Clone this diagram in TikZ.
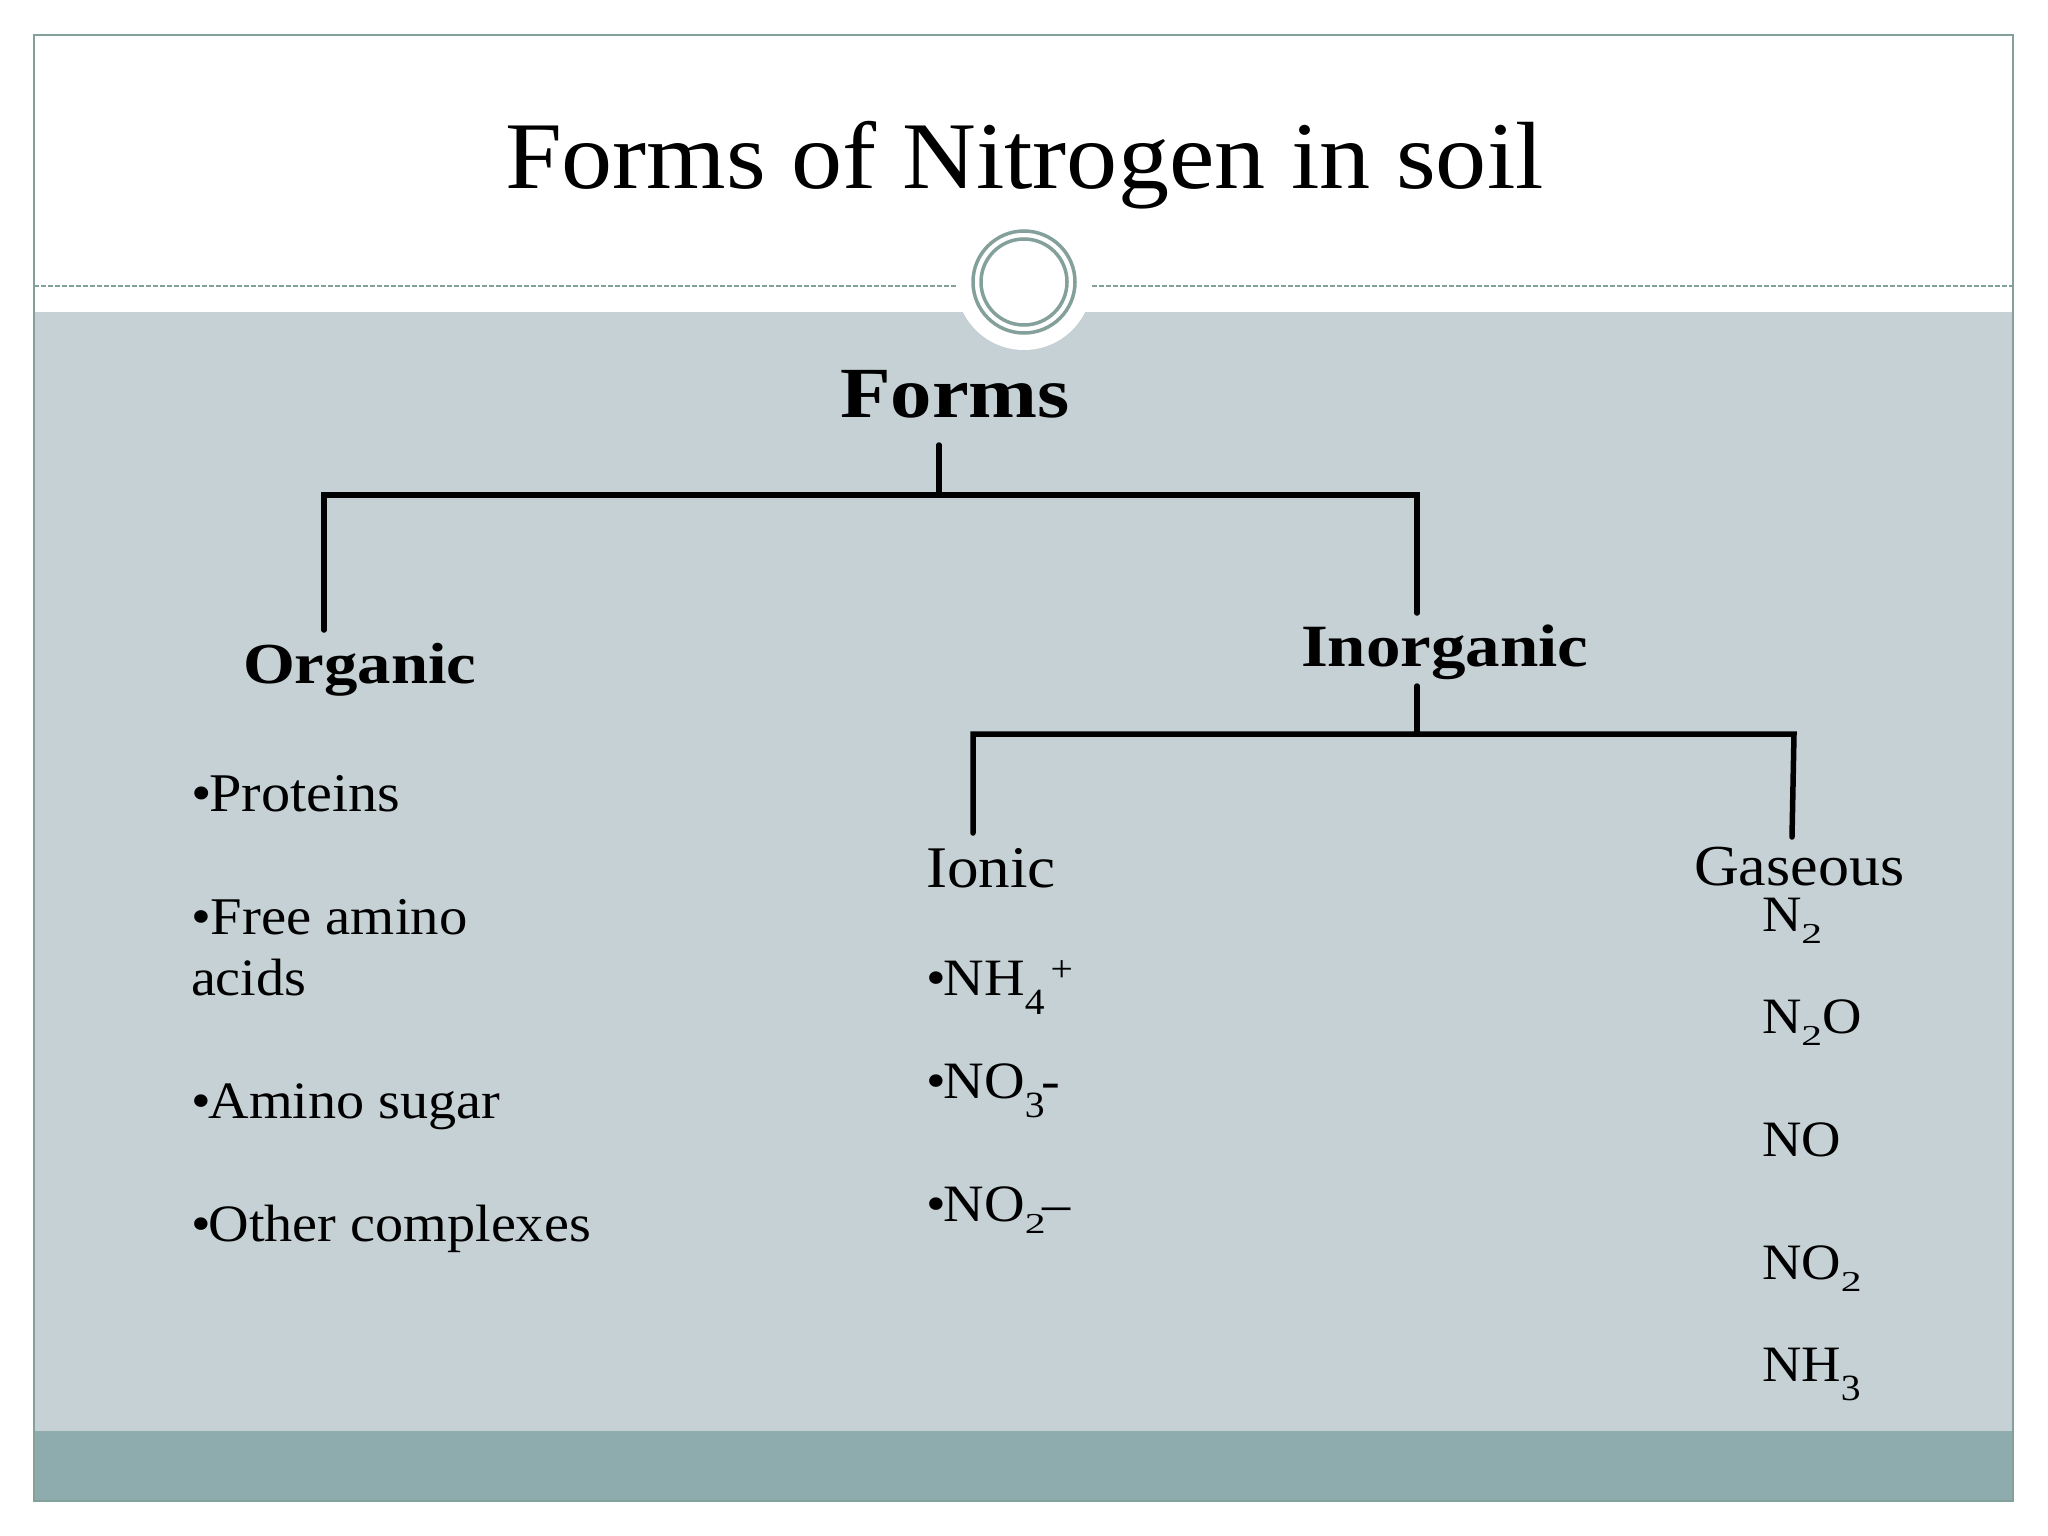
\documentclass[tikz,border=0pt]{standalone}
\usepackage{fontspec}
\usepackage{graphicx}
\setmainfont[FakeStretch=1.07,BoldFeatures={FakeStretch=1.15}]{Liberation Serif}
\definecolor{panel}{HTML}{C5D1D5}
\definecolor{band}{HTML}{8EABAE}
\definecolor{edge}{HTML}{84A09A}
\newcommand{\fs}[1]{\fontsize{#1}{#1}\selectfont}
\newcommand{\subtwo}{\raisebox{-12pt}{\scalebox{1.05}[0.78]{\fs{37}2}}}
\newcommand{\subthree}{\raisebox{-19pt}{\fs{37}3}}
\newcommand{\subfour}{\raisebox{-19pt}{\fs{37}4}}
\newcommand{\bul}{•\hspace{-2pt}}
\tikzset{
 lbl/.style={anchor=base west,inner sep=0pt,outer sep=0pt,text=black},
 body/.style={lbl,font=\fs{52.5}},
 gas/.style={lbl,font=\fs{51}},
 head/.style={lbl,font=\fs{59}},
 boldhead/.style={lbl,font=\fs{58}\bfseries},
 conn/.style={draw=black,line width=5.5pt,line cap=round}
}
\begin{document}
\begin{tikzpicture}[x=1pt,y=-1pt]
\useasboundingbox (0,0) rectangle (2048,1536);
\fill[white] (0,0) rectangle (2048,1536);
\fill[panel] (34,312) rectangle (2013,1431);
\fill[band] (34,1431) rectangle (2013,1501);
\fill[white] (1024,282) circle (68);
\fill[white] (950,270) rectangle (1098,312);
\draw[edge,line width=2pt] (34,35) rectangle (2013,1501);
\draw[edge,line width=1.3pt,dash pattern=on 5pt off 2pt] (34,286) -- (956,286);
\draw[edge,line width=1.3pt,dash pattern=on 5pt off 2pt] (1092,286) -- (2013,286);
\draw[edge,line width=3.5pt] (1024,282) circle (51);
\draw[edge,line width=3.5pt] (1024,282) circle (43);
\node[lbl,font=\fs{95.5}] (title) at (505,189) {Forms of Nitrogen in soil};
\node[boldhead,font=\fs{72}\bfseries] (forms) at (840,417) {Forms};
\node[boldhead] (organic) at (243,683) {Organic};
\node[boldhead,font=\fs{60}\bfseries] (inorganic) at (1301,666) {Inorganic};
\node[head] (ionic) at (926,887) {Ionic};
\node[head,font=\fs{58}] (gaseous) at (1694,885) {Gaseous};
\node[body,font=\fs{54.5}] (p1) at (191,811) {\bul Proteins};
\node[body,font=\fs{53}] (p2) at (191,934) {•Free amino};
\node[body] (p2b) at (191,995) {acids};
\node[body] (p3) at (191,1118) {\bul Amino sugar};
\node[body] (p4) at (191,1241) {\bul Other complexes};
\node[body] (i1) at (926,995) {\bul NH\subfour\hspace{6pt}\raisebox{14pt}{\fs{37}+}};
\node[body] (i2) at (926,1098) {\bul NO\subthree\hspace{-3pt}-};
\node[body] (i3) at (926,1221) {\bul NO\subtwo\hspace{-3pt}–};
\node[gas] (g1) at (1762,931) {N\subtwo};
\node[gas] (g2) at (1762,1033) {N\subtwo O};
\node[gas] (g3) at (1762,1156) {NO};
\node[gas] (g4) at (1762,1279) {NO\subtwo};
\node[gas] (g5) at (1762,1381) {NH\subthree};
\coordinate (s0) at (939,445);
\coordinate (s1) at (939,493);
\coordinate (hl) at (324,495);
\coordinate (hr) at (1417,495);
\coordinate (ol) at (324,630);
\coordinate (ir) at (1417,613);
\coordinate (s2) at (1417,686);
\coordinate (s3) at (1417,733);
\coordinate (jl) at (973,734);
\coordinate (jr) at (1794,734);
\coordinate (il) at (973,833);
\coordinate (gr) at (1792,837);
\draw[conn] (s0) -- (s1);
\draw[conn] (ol) -- (hl) -- (hr) -- (ir);
\draw[conn] (s2) -- (s3);
\draw[conn] (il) -- (jl) -- (jr) -- (gr);
\end{tikzpicture}
\end{document}
